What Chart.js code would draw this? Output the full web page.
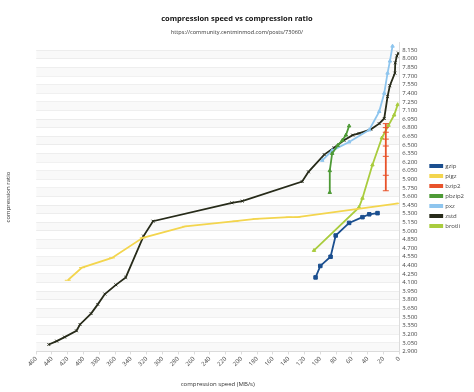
<!DOCTYPE html>
<html>
<head>
<meta charset="utf-8">
<script src="https://cdn.jsdelivr.net/npm/chart.js@4/dist/chart.umd.min.js"></script>
<style>
  html, body { margin: 0; padding: 0; background: #fff; }
  #wrap { width: 474px; height: 392px; }
</style>
</head>
<body>
<div id="wrap"><canvas id="ratioChart"></canvas></div>
<script>
// compression speed (MB/s) and compression ratio
const gzipSpeed = [106, 100, 87, 80.5, 63.5, 46.6, 38, 27.5];
const gzipRatio = [4.19, 4.39, 4.55, 4.92, 5.14, 5.24, 5.29, 5.31];

const pigzSpeed = [420, 402, 364, 325, 271, 207.5, 182, 140, 129, 1];
const pigzRatio = [4.14, 4.36, 4.53, 4.88, 5.08, 5.17, 5.21, 5.24, 5.24, 5.48];

const bzip2Speed = [17, 17, 17, 17, 17, 17, 17, 17];
const bzip2Ratio = [6.87, 6.80, 6.72, 6.60, 6.48, 6.30, 5.97, 5.70];

const pbzip2Speed = [88, 88, 85, 78, 72, 67.5, 63.5];
const pbzip2Ratio = [5.67, 6.05, 6.35, 6.49, 6.58, 6.67, 6.83];

const pxzSpeed = [97.5, 85, 63.5, 38, 25.4, 19, 14.8, 11.8, 8.5];
const pxzRatio = [6.23, 6.40, 6.55, 6.76, 7.08, 7.40, 7.75, 7.96, 8.22];

const zstdSpeed = [444, 434, 424, 409, 404.5, 390.5, 382, 373, 359, 346.5, 324, 312,
                   212, 199, 123, 115, 95, 82.6, 70, 59, 51, 36, 25.4, 19, 14.8, 11.9, 5.5, 5, 3, 1];
const zstdRatio = [3.02, 3.08, 3.15, 3.26, 3.37, 3.56, 3.72, 3.90, 4.06, 4.19, 4.91, 5.17,
                   5.49, 5.52, 5.86, 6.03, 6.33, 6.45, 6.58, 6.67, 6.70, 6.77, 6.87, 6.96, 7.34, 7.53, 7.75, 7.93, 8.05, 8.10];

const brotliSpeed = [108, 51, 46.6, 34, 22, 13.6, 6.4, 2];
const brotliRatio = [4.66, 5.41, 5.57, 6.15, 6.62, 6.84, 7.02, 7.20];

// axis tick labels
const ratioTicks = ['2.900', '3.050', '3.200', '3.350', '3.500', '3.650', '3.800', '3.950',
                    '4.100', '4.250', '4.400', '4.550', '4.700', '4.850', '5.000', '5.150',
                    '5.300', '5.450', '5.600', '5.750', '5.900', '6.050', '6.200', '6.350',
                    '6.500', '6.650', '6.800', '6.950', '7.100', '7.250', '7.400', '7.550',
                    '7.700', '7.850', '8.000', '8.150'];
const speedTicks = [0, 20, 40, 60, 80, 100, 120, 140, 160, 180, 200, 220, 240,
                    260, 280, 300, 320, 340, 360, 380, 400, 420, 440, 460];

function pts(xs, ys) {
    return xs.map(function(x, i) { return { x: x, y: ys[i] }; });
}

function series(label, xs, ys, color, style, r) {
    return {
        label: label,
        data: pts(xs, ys),
        showLine: true,
        borderColor: color,
        backgroundColor: color,
        borderWidth: 1.8,
        pointStyle: style,
        pointRadius: r,
        pointBorderWidth: 1,
        tension: 0
    };
}

// faint horizontal bands behind the plot
const bands = {
    id: 'bands',
    beforeDatasetsDraw(chart) {
        const ctx = chart.ctx, y = chart.scales.y, a = chart.chartArea;
        ctx.save();
        const ticks = y.ticks;
        for (let i = 0; i < ticks.length - 1; i += 2) {
            const top = y.getPixelForValue(ticks[i + 1].value);
            const bot = y.getPixelForValue(ticks[i].value);
            ctx.fillStyle = 'rgba(0,0,0,0.022)';
            ctx.fillRect(a.left, top, a.right - a.left, bot - top);
        }
        ctx.restore();
    }
};

const small = { family: 'Open Sans', size: 6 };

document.addEventListener('DOMContentLoaded', function() {
    new Chart(document.getElementById('ratioChart').getContext('2d'), {
        type: 'scatter',
        data: {
            datasets: [
                series('gzip', gzipSpeed, gzipRatio, '#1b4f8f', 'rect', 2.5),
                series('pigz', pigzSpeed, pigzRatio, '#f3d54e', 'line', 3),
                series('bzip2', bzip2Speed, bzip2Ratio, '#e8532b', 'line', 3),
                series('pbzip2', pbzip2Speed, pbzip2Ratio, '#4e9a36', 'triangle', 2),
                series('pxz', pxzSpeed, pxzRatio, '#8ec5ee', 'triangle', 2),
                series('zstd', zstdSpeed, zstdRatio, '#272b1a', 'crossRot', 2),
                series('brotli', brotliSpeed, brotliRatio, '#a9cc3e', 'triangle', 2)
            ]
        },
        options: {
            responsive: true,
            maintainAspectRatio: false,
            animation: false,
            layout: { padding: { left: 0, right: 0, top: 4, bottom: 4 } },
            plugins: {
                title: {
                    display: true,
                    text: 'compression speed vs compression ratio',
                    color: '#111',
                    font: { family: 'Open Sans', size: 7.5, weight: 'bold' },
                    padding: { top: 10, bottom: 6 }
                },
                subtitle: {
                    display: true,
                    text: 'https://community.centminmod.com/posts/73060/',
                    color: '#333',
                    font: { family: 'Open Sans', size: 5.6 },
                    padding: { bottom: 7 }
                },
                legend: {
                    position: 'right',
                    labels: {
                        boxWidth: 12,
                        boxHeight: 2,
                        padding: 4,
                        color: '#444',
                        font: small
                    }
                },
                tooltip: { enabled: false }
            },
            scales: {
                x: {
                    type: 'linear',
                    reverse: true,
                    min: 0,
                    max: 460,
                    afterBuildTicks(axis) {
                        axis.ticks = speedTicks.map(function(v) { return { value: v }; });
                    },
                    ticks: {
                        autoSkip: false,
                        maxRotation: 45,
                        minRotation: 45,
                        padding: 1,
                        color: '#444',
                        font: small
                    },
                    grid: { display: true, drawOnChartArea: false, tickLength: 3, color: '#ddd' },
                    border: { color: '#ddd' },
                    title: {
                        display: true,
                        text: 'compression speed (MB/s)',
                        color: '#333',
                        font: small,
                        padding: { top: 12, bottom: 0 }
                    }
                },
                y: {
                    position: 'right',
                    min: 2.9,
                    max: 8.28,
                    afterBuildTicks(axis) {
                        axis.ticks = ratioTicks.map(function(s) { return { value: parseFloat(s) }; });
                    },
                    afterFit(axis) {
                        axis.width = 27;
                    },
                    ticks: {
                        autoSkip: false,
                        color: '#444',
                        font: small,
                        padding: 3,
                        callback: function(v) { return Number(v).toFixed(3); }
                    },
                    grid: { color: '#f1f1f1', drawTicks: false },
                    border: { color: '#ddd' }
                },
                yTitle: {
                    position: 'left',
                    min: 0,
                    max: 1,
                    ticks: { display: false },
                    grid: { display: false },
                    border: { display: false },
                    title: {
                        display: true,
                        text: 'compression ratio',
                        color: '#333',
                        font: small,
                        padding: { top: 5, bottom: 16 }
                    }
                }
            }
        },
        plugins: [bands]
    });
});
</script>
</body>
</html>
